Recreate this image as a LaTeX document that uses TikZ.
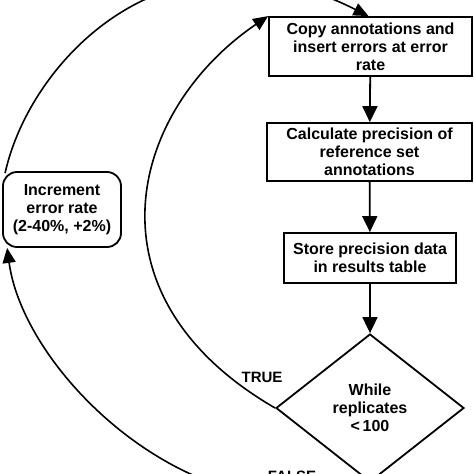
\documentclass[tikz,border=0pt]{standalone}
\usepackage{fontspec}
\setmainfont{Liberation Sans}
\usetikzlibrary{arrows.meta,shapes.geometric,calc}
\begin{document}
\begin{tikzpicture}[x=1pt,y=-1pt,
  txt/.style={font=\fontsize{16}{18}\selectfont\bfseries, align=center, inner sep=0pt},
  procbox/.style={txt, draw, line width=1.8pt, rectangle},
  arr/.style={line width=1.8pt, -{Triangle[length=16pt,width=15pt]}},
  carr/.style={line width=1.6pt, -{Triangle[length=15pt,width=13pt]}},
  lbl/.style={font=\fontsize{15}{17}\selectfont\bfseries, inner sep=0pt}]
\useasboundingbox (0,0) rectangle (474,474);
\fill[white] (0,0) rectangle (474,474);
\clip (0,0) rectangle (474,474);
\node[procbox, minimum width=203pt, minimum height=59pt] (b1) at (370.5,46.5)
  {Copy annotations and\\insert errors at error\\rate};
\node[procbox, minimum width=205pt, minimum height=58pt] (b2) at (369.5,152)
  {Calculate precision of\\reference set\\annotations};
\node[procbox, minimum width=172pt, minimum height=50pt] (b3) at (370,258)
  {Store precision data\\in results table};
\node[txt, draw, line width=1.8pt, diamond, aspect=1.27, minimum width=188pt, minimum height=148pt] (d) at (370,408)
  {While\\replicates\\{<}\,100};
\node[txt, draw, line width=1.8pt, rounded corners=14pt, rectangle, minimum width=118pt, minimum height=75pt] (incr) at (62,209.5)
  {Increment\\error rate\\(2-40\%, +2\%)};
\draw[arr] (b1) -- (b2);
\draw[arr] (b2) -- (b3);
\draw[arr] (b3) -- (d);
\draw[carr] (d.west) .. controls (80,295) and (130,110) .. (b1.north west);
\draw[carr] (d.south) .. controls (210,550) and (25,380) .. ($(incr.south west)+(5,0)$);
\draw[carr] ($(incr.north west)+(3,2)$) .. controls (30,60) and (168,-85) .. ($(b1.north)+(-2,0)$);
\node[lbl] (t) at (262,377) {TRUE};
\node[lbl] (f) at (292,476) {FALSE};
\end{tikzpicture}
\end{document}
